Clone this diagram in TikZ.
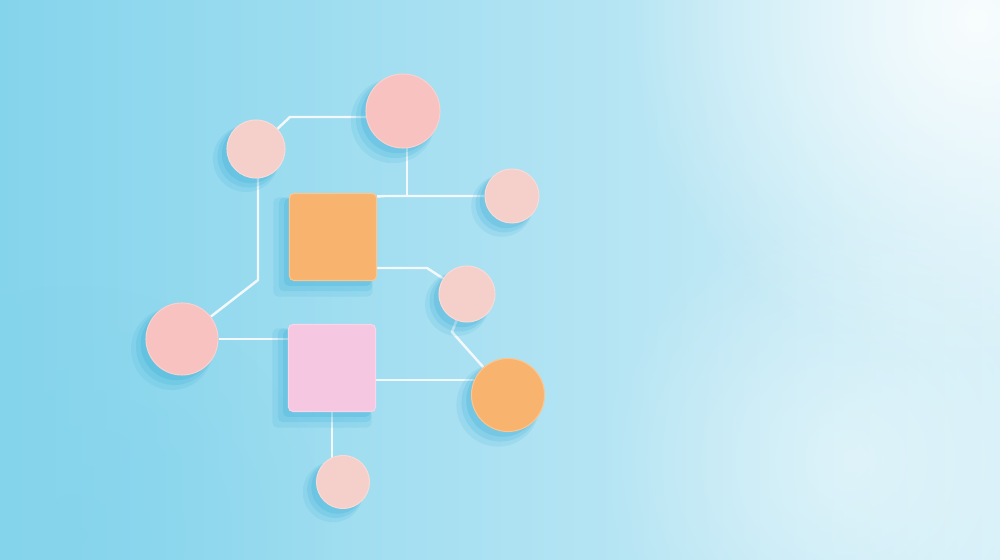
\documentclass[tikz,border=0pt]{standalone}
\usepackage{xcolor}
\usepackage{tikz}
\usetikzlibrary{calc}
\usetikzlibrary{positioning}
\usetikzlibrary{backgrounds}
\usetikzlibrary{fadings}
\usetikzlibrary{shadows}
\definecolor{skyleft}{HTML}{84D4EC}
\definecolor{skyright}{HTML}{D4EFF8}
\definecolor{shadowblue}{HTML}{2AA6D4}
\definecolor{rosebig}{HTML}{F7C2C0}
\definecolor{rosesmall}{HTML}{F5CFCA}
\definecolor{peach}{HTML}{F8B36E}
\definecolor{lilac}{HTML}{F6C7E1}
\definecolor{linkwhite}{HTML}{F2F8FB}
\tikzfading[name=softglow, inner color=transparent!0, outer color=transparent!100]
\tikzset{
  mylink/.style={
    draw=linkwhite,
    line width=1.4pt,
    line join=round,
  },
  myshadow/.style={
    general shadow={fill=shadowblue, opacity=0.12,
      shadow xshift=-5pt, shadow yshift=-5pt, shadow scale=1.14},
    general shadow={fill=shadowblue, opacity=0.16,
      shadow xshift=-4pt, shadow yshift=-4pt, shadow scale=1.07},
    general shadow={fill=shadowblue, opacity=0.2,
      shadow xshift=-3pt, shadow yshift=-3pt, shadow scale=1.0},
  },
  mycircle/.style={
    shape=circle,
    fill=#1,
    draw=#1!75!white,
    line width=0.6pt,
    inner sep=0pt,
    myshadow,
  },
  mysquare/.style={
    shape=rectangle,
    fill=#1,
    draw=#1!75!white,
    line width=0.6pt,
    rounded corners=2.5pt,
    inner sep=0pt,
    minimum size=1.74cm,
    myshadow,
  },
}

\begin{document}
\begin{tikzpicture}
  \useasboundingbox (0,0) rectangle (20,11.2);

  % pieces
  \node[mycircle=rosebig, minimum size=1.48cm] (c1) at (8.06,8.98) {};
  \node[mycircle=rosesmall, minimum size=1.16cm] (c2) at (5.12,8.22) {};
  \node[mycircle=rosesmall, minimum size=1.08cm] (c3) at (10.24,7.28) {};
  \node[mysquare=peach] (s1) at (6.66,6.46) {};
  \node[mycircle=rosesmall, minimum size=1.12cm] (c4) at (9.34,5.32) {};
  \node[mycircle=rosebig, minimum size=1.44cm] (c5) at (3.64,4.42) {};
  \node[mysquare=lilac] (s2) at (6.64,3.84) {};
  \node[mycircle=peach, minimum size=1.46cm] (c6) at (10.16,3.30) {};
  \node[mycircle=rosesmall, minimum size=1.06cm] (c7) at (6.86,1.56) {};

  \coordinate (k1) at (5.80,8.86);
  \coordinate (k2) at (5.16,5.60);
  \coordinate (k3) at (8.14,7.28);
  \coordinate (k4) at (7.70,7.28);
  \coordinate (k5) at (8.54,5.84);
  \coordinate (k6) at (9.04,4.56);
  \coordinate (k7) at (9.50,3.60);

  \begin{scope}[on background layer]
    % wall
    \fill[left color=skyleft, right color=skyright] (0,0) rectangle (20,11.2);
    \fill[white, opacity=0.85, path fading=softglow] (19.5,10.8) circle (7);
    \fill[white, opacity=0.4, path fading=softglow] (17,2) circle (5);
    \fill[skyleft, opacity=0.6, path fading=softglow] (1.5,0.5) circle (5);

    % links
    \draw[mylink] (c2) -- (k1) -- (k1 -| c1);
    \draw[mylink] (k2 |- c2) -- (k2) -- (c5);
    \draw[mylink] (k3 |- c1) -- (k3);
    \draw[mylink] ([yshift=-2pt]s1.north east) -- (k4) -- (c3);
    \draw[mylink] (k5 -| s1) -- (k5) -- (c4);
    \draw[mylink] (c4) -- (k6) -- (c6);
    \draw[mylink] (c5) -- (c5 -| s2);
    \draw[mylink] (k7 -| s2) -- (k7 -| c6);
    \draw[mylink] (s2) -- (s2 |- c7);
  \end{scope}
\end{tikzpicture}
\end{document}
